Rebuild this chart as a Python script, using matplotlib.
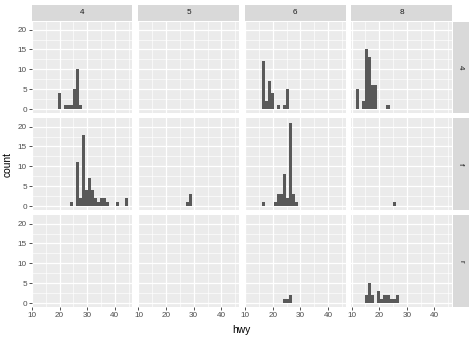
import matplotlib
matplotlib.use('Agg')
import numpy as np
import matplotlib.pyplot as plt

plt.rcParams['font.family'] = ['Liberation Sans', 'DejaVu Sans']

# facet levels
drv_levels = ['4', 'f', 'r']
cyl_levels = ['4', '5', '6', '8']

# histogram of hwy, 30 bins over 12..44 (ggplot default binning)
hwy_min, hwy_max, n_bins = 12, 44, 30

# counts per bin index for each drv/cyl facet (empty facets left out)
bins_4_4 = [7, 9, 10, 11, 12, 13, 14]
cnts_4_4 = [4, 1, 1, 1, 5, 10, 1]
bins_4_6 = [4, 5, 6, 7, 9, 11, 12]
cnts_4_6 = [12, 2, 7, 4, 1, 1, 5]
bins_4_8 = [0, 2, 3, 4, 5, 6, 10]
cnts_4_8 = [5, 2, 15, 13, 6, 6, 1]
bins_f_4 = [11, 13, 14, 15, 16, 17, 18, 19, 20, 21, 22, 23, 26, 29]
cnts_f_4 = [1, 11, 2, 18, 4, 7, 4, 2, 1, 2, 2, 1, 1, 2]
bins_f_5 = [14, 15]
cnts_f_5 = [1, 3]
bins_f_6 = [4, 8, 9, 10, 11, 12, 13, 14, 15]
cnts_f_6 = [1, 1, 3, 3, 8, 2, 21, 3, 1]
bins_f_8 = [12]
cnts_f_8 = [1]
bins_r_6 = [11, 12, 13]
cnts_r_6 = [1, 1, 2]
bins_r_8 = [3, 4, 5, 7, 8, 9, 10, 11, 12, 13]
cnts_r_8 = [2, 5, 2, 3, 1, 2, 2, 1, 1, 2]

facets = {
    ('4', '4'): (bins_4_4, cnts_4_4),
    ('4', '6'): (bins_4_6, cnts_4_6),
    ('4', '8'): (bins_4_8, cnts_4_8),
    ('f', '4'): (bins_f_4, cnts_f_4),
    ('f', '5'): (bins_f_5, cnts_f_5),
    ('f', '6'): (bins_f_6, cnts_f_6),
    ('f', '8'): (bins_f_8, cnts_f_8),
    ('r', '6'): (bins_r_6, cnts_r_6),
    ('r', '8'): (bins_r_8, cnts_r_8),
}

width = (hwy_max - hwy_min) / (n_bins - 1)
boundary = width / 2
origin = boundary + np.floor((hwy_min - boundary) / width) * width
edges = origin + width * np.arange(n_bins + 1)

span = edges[-1] - edges[0]
xlim = (edges[0] - 0.05 * span, edges[-1] + 0.05 * span)
ymax = 21
ylim = (-0.05 * ymax, ymax * 1.05)

W, H = 474, 338
fig = plt.figure(figsize=(W / 100, H / 100), dpi=100)


def rect(x, y, w, h):
    return [x / W, 1 - (y + h) / H, w / W, h / H]


col_x = [31.7, 138.3, 244.9, 351.4]
row_y = [21.5, 118.5, 215.5]
pw, ph = 100.6, 91.7

tick_kw = dict(labelsize=5.9, labelcolor='#4D4D4D', color='#333333',
               length=2.2, width=0.6, pad=1.2)

for i, drv in enumerate(drv_levels):
    for j, cyl in enumerate(cyl_levels):
        ax = fig.add_axes(rect(col_x[j], row_y[i], pw, ph))
        ax.set_facecolor('#EBEBEB')
        for s in ax.spines.values():
            s.set_visible(False)
        ax.set_xlim(xlim)
        ax.set_ylim(ylim)
        ax.set_xticks([10, 20, 30, 40])
        ax.set_xticks([15, 25, 35, 45], minor=True)
        ax.set_yticks([0, 5, 10, 15, 20])
        ax.set_yticks([2.5, 7.5, 12.5, 17.5], minor=True)
        ax.grid(which='major', color='white', lw=0.9)
        ax.grid(which='minor', color='white', lw=0.45)
        ax.set_axisbelow(True)
        ax.tick_params(which='minor', length=0)
        ax.tick_params(which='major', **tick_kw)
        if j > 0:
            ax.tick_params(axis='y', left=False, labelleft=False)
        if i < len(drv_levels) - 1:
            ax.tick_params(axis='x', bottom=False, labelbottom=False)

        if (drv, cyl) in facets:
            b, c = facets[(drv, cyl)]
            ax.bar(edges[np.array(b)], c, width=width, align='edge',
                   color='#595959', lw=0)

        if i == 0:
            sa = fig.add_axes(rect(col_x[j], 5, pw, 16))
            sa.set_facecolor('#D9D9D9')
            sa.set_xticks([])
            sa.set_yticks([])
            for s in sa.spines.values():
                s.set_visible(False)
            sa.text(0.5, 0.5, cyl, ha='center', va='center', fontsize=5.9,
                    color='#1A1A1A', transform=sa.transAxes)
    ra = fig.add_axes(rect(452.7, row_y[i], 16, ph))
    ra.set_facecolor('#D9D9D9')
    ra.set_xticks([])
    ra.set_yticks([])
    for s in ra.spines.values():
        s.set_visible(False)
    ra.text(0.5, 0.5, drv, ha='center', va='center', fontsize=5.9,
            color='#1A1A1A', rotation=-90, transform=ra.transAxes)

fig.text((col_x[0] + col_x[-1] + pw) / 2 / W, 1 - 330 / H, 'hwy',
         ha='center', va='center', fontsize=7.4)
fig.text(8 / W, 1 - (row_y[0] + row_y[-1] + ph) / 2 / H, 'count',
         ha='center', va='center', fontsize=7.4, rotation=90)

fig.savefig('out.png', dpi=100, facecolor='white')
